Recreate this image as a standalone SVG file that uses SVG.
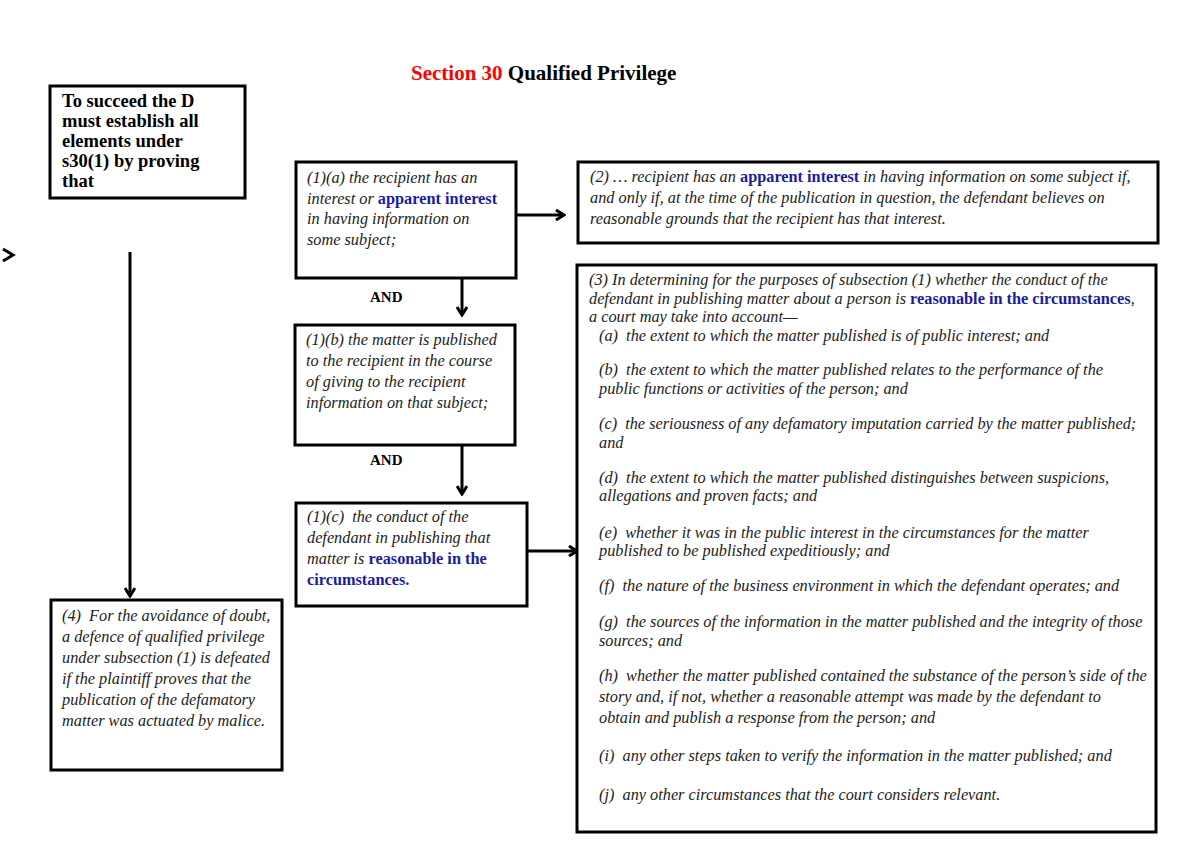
<svg xmlns="http://www.w3.org/2000/svg" width="1200" height="849" viewBox="0 0 1200 849">
<style>
.box{fill:#fff;stroke:#000;stroke-width:3}
.t{font-family:"Liberation Serif","Times New Roman",serif;font-style:italic;font-size:16.3px;fill:#222;white-space:pre}
.b{font-family:"Liberation Serif","Times New Roman",serif;font-weight:bold;font-size:18.5px;fill:#000}
.blue{font-style:normal;font-weight:bold;fill:#1c1ca0}
.and{font-family:"Liberation Serif","Times New Roman",serif;font-weight:bold;font-size:15px;fill:#000}
.ln{stroke:#000;stroke-width:3;fill:none}
</style>
<defs>
<marker id="chev" viewBox="0 0 12 12" refX="10" refY="6" markerWidth="12" markerHeight="12" markerUnits="userSpaceOnUse" orient="auto">
<path d="M2,1 L10,6 L2,11" fill="none" stroke="#000" stroke-width="3"/>
</marker>
</defs>
<rect width="1200" height="849" fill="#fff"/>

<text x="411" y="80" font-family="Liberation Serif,serif" font-weight="bold" font-size="21"><tspan fill="#ff0000">Section 30</tspan> <tspan fill="#000">Qualified Privilege</tspan></text>

<g id="connectors">
<line class="ln" x1="130" y1="252" x2="130" y2="596" marker-end="url(#chev)"/>
<line class="ln" x1="516" y1="215" x2="564" y2="215" marker-end="url(#chev)"/>
<line class="ln" x1="462" y1="278" x2="462" y2="315" marker-end="url(#chev)"/>
<line class="ln" x1="462" y1="445" x2="462" y2="494" marker-end="url(#chev)"/>
<line class="ln" x1="527" y1="551" x2="577" y2="551" marker-end="url(#chev)"/>
<path class="ln" d="M3,249 L13,255 L3,261"/>
<text class="and" x="370" y="302">AND</text>
<text class="and" x="370" y="465">AND</text>
</g>

<g id="intro">
<rect class="box" x="50" y="86" width="195" height="112"/>
<text class="b" x="62" y="107">To succeed the D</text>
<text class="b" x="62" y="127">must establish all</text>
<text class="b" x="62" y="147">elements under</text>
<text class="b" x="62" y="167">s30(1) by proving</text>
<text class="b" x="62" y="187">that</text>
</g>

<g id="s1a">
<rect class="box" x="296" y="162" width="220" height="116"/>
<text class="t" x="307" y="183">(1)(a) the recipient has an</text>
<text class="t" x="307" y="204">interest or <tspan class="blue">apparent interest</tspan></text>
<text class="t" x="307" y="224">in having information on</text>
<text class="t" x="307" y="245">some subject;</text>
</g>

<g id="s2">
<rect class="box" x="578" y="162" width="580" height="81"/>
<text class="t" x="590" y="182">(2) … recipient has an <tspan class="blue">apparent interest</tspan> in having information on some subject if,</text>
<text class="t" x="590" y="203">and only if, at the time of the publication in question, the defendant believes on</text>
<text class="t" x="590" y="224">reasonable grounds that the recipient has that interest.</text>
</g>

<g id="s1b">
<rect class="box" x="295" y="325" width="220" height="120"/>
<text class="t" x="306" y="345">(1)(b) the matter is published</text>
<text class="t" x="306" y="366">to the recipient in the course</text>
<text class="t" x="306" y="387">of giving to the recipient</text>
<text class="t" x="306" y="408">information on that subject;</text>
</g>

<g id="s1c">
<rect class="box" x="296" y="503" width="231" height="103"/>
<text class="t" x="307" y="522">(1)(c)  the conduct of the</text>
<text class="t" x="307" y="543">defendant in publishing that</text>
<text class="t" x="307" y="564">matter is <tspan class="blue">reasonable in the</tspan></text>
<text class="t" x="307" y="585"><tspan class="blue">circumstances.</tspan></text>
</g>

<g id="s3">
<rect class="box" x="577" y="265" width="579" height="567"/>
<text class="t" x="589" y="285">(3) In determining for the purposes of subsection (1) whether the conduct of the</text>
<text class="t" x="589" y="304">defendant in publishing matter about a person is <tspan class="blue">reasonable in the circumstances</tspan>,</text>
<text class="t" x="589" y="322">a court may take into account—</text>
<text class="t" x="599" y="341">(a)  the extent to which the matter published is of public interest; and</text>
<text class="t" x="599" y="375">(b)  the extent to which the matter published relates to the performance of the</text>
<text class="t" x="599" y="394">public functions or activities of the person; and</text>
<text class="t" x="599" y="429">(c)  the seriousness of any defamatory imputation carried by the matter published;</text>
<text class="t" x="599" y="448">and</text>
<text class="t" x="599" y="483">(d)  the extent to which the matter published distinguishes between suspicions,</text>
<text class="t" x="599" y="501">allegations and proven facts; and</text>
<text class="t" x="599" y="538">(e)  whether it was in the public interest in the circumstances for the matter</text>
<text class="t" x="599" y="556">published to be published expeditiously; and</text>
<text class="t" x="599" y="591">(f)  the nature of the business environment in which the defendant operates; and</text>
<text class="t" x="599" y="627">(g)  the sources of the information in the matter published and the integrity of those</text>
<text class="t" x="599" y="646">sources; and</text>
<text class="t" x="599" y="681">(h)  whether the matter published contained the substance of the person’s side of the</text>
<text class="t" x="599" y="702">story and, if not, whether a reasonable attempt was made by the defendant to</text>
<text class="t" x="599" y="723">obtain and publish a response from the person; and</text>
<text class="t" x="599" y="761">(i)  any other steps taken to verify the information in the matter published; and</text>
<text class="t" x="599" y="800">(j)  any other circumstances that the court considers relevant.</text>
</g>

<g id="s4">
<rect class="box" x="51" y="600" width="231" height="170"/>
<text class="t" x="62" y="621">(4)  For the avoidance of doubt,</text>
<text class="t" x="62" y="642">a defence of qualified privilege</text>
<text class="t" x="62" y="663">under subsection (1) is defeated</text>
<text class="t" x="62" y="684">if the plaintiff proves that the</text>
<text class="t" x="62" y="705">publication of the defamatory</text>
<text class="t" x="62" y="726">matter was actuated by malice.</text>
</g>
</svg>
